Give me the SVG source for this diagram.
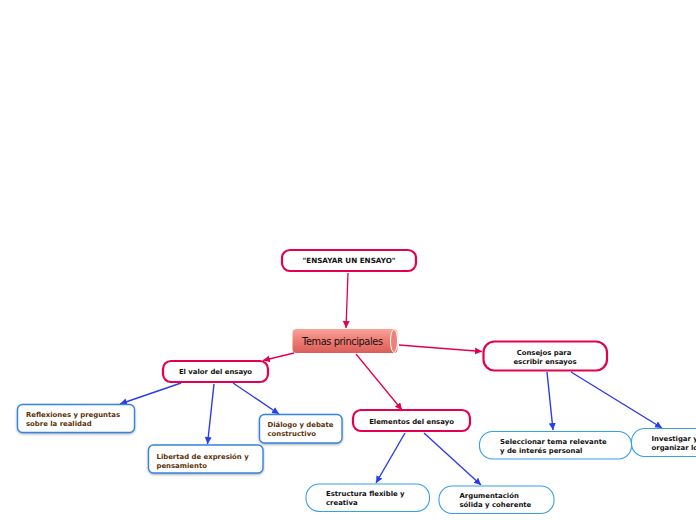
<svg xmlns="http://www.w3.org/2000/svg" width="696" height="520" viewBox="0 0 696 520">
<style>
text{font-family:"DejaVu Sans",Verdana,sans-serif;font-size:6.9px;font-weight:bold;fill:#111}
.pink{fill:#fff;stroke:#e5004f;stroke-width:2.2}
.blue{fill:#fff;stroke:#3585e0;stroke-width:1.4;filter:url(#sh)}
.sky{fill:#fff;stroke:#35a0e6;stroke-width:1.1}
.br{fill:#5c3208}
.cp{fill:none;stroke:#e5004f;stroke-width:1.3}
.cb{fill:none;stroke:#2b3bf0;stroke-width:1.4}
</style>
<defs>
<marker id="ap" markerUnits="userSpaceOnUse" markerWidth="8" markerHeight="8" refX="7" refY="3.5" orient="auto"><path d="M0 0L7 3.5L0 7Z" fill="#e5004f"/></marker>
<marker id="ab" markerUnits="userSpaceOnUse" markerWidth="8" markerHeight="8" refX="7" refY="3.5" orient="auto"><path d="M0 0L7 3.5L0 7Z" fill="#2b3bf0"/></marker>
<linearGradient id="g" x1="0" y1="0" x2="0" y2="1"><stop offset="0" stop-color="#f9a49a"/><stop offset=".5" stop-color="#ee7a72"/><stop offset="1" stop-color="#d8605a"/></linearGradient>
<filter id="sh" x="-5%" y="-10%" width="110%" height="125%"><feDropShadow dx="0" dy="1" stdDeviation=".8" flood-color="#555" flood-opacity=".5"/></filter>
</defs>
<g id="connectors">
<path class="cp" marker-end="url(#ap)" d="M348 273L346 328"/>
<path class="cp" marker-end="url(#ap)" d="M294 353L263 360.500"/>
<path class="cp" marker-end="url(#ap)" d="M356 354L402 410"/>
<path class="cp" marker-end="url(#ap)" d="M399 345L482 351.500"/>
<path class="cb" marker-end="url(#ab)" d="M181 383L120 404"/>
<path class="cb" marker-end="url(#ab)" d="M214 384L207.500 444"/>
<path class="cb" marker-end="url(#ab)" d="M233 383L279 414"/>
<path class="cb" marker-end="url(#ab)" d="M405 433L376 483"/>
<path class="cb" marker-end="url(#ab)" d="M424 433L481 485"/>
<path class="cb" marker-end="url(#ab)" d="M547 372L553 430"/>
<path class="cb" marker-end="url(#ab)" d="M571 372L662 428"/>
</g>
<g id="n-title"><rect class="pink" x="282" y="250" width="134" height="21" rx="8"/><text x="349" y="263" text-anchor="middle" style="font-size:7.2px">"ENSAYAR UN ENSAYO"</text></g>
<g id="n-main">
<rect x="292.500" y="329" width="105" height="24" rx="4" fill="url(#g)"/>
<ellipse cx="394" cy="341" rx="3.500" ry="11.500" fill="#ef8078" stroke="#fff" stroke-width="1"/>
<text x="302" y="344.500" textLength="81" style="font-size:9.800px;font-weight:normal">Temas principales</text>
</g>
<g id="n-valor"><rect class="pink" x="163" y="361" width="105" height="21" rx="8"/><text x="215.500" y="374" text-anchor="middle">El valor del ensayo</text></g>
<g id="n-reflex"><rect class="blue" x="17.500" y="404.500" width="117" height="28" rx="5"/><text class="br" x="26" y="417">Reflexiones y preguntas</text><text class="br" x="26" y="426">sobre la realidad</text></g>
<g id="n-libertad"><rect class="blue" x="148.500" y="445" width="114.500" height="28" rx="5"/><text class="br" x="156.500" y="459">Libertad de expresión y</text><text class="br" x="156.500" y="467.500">pensamiento</text></g>
<g id="n-dialogo"><rect class="blue" x="259.500" y="414.500" width="82.500" height="28.500" rx="5"/><text class="br" x="267.500" y="427">Diálogo y debate</text><text class="br" x="267.500" y="436">constructivo</text></g>
<g id="n-elementos"><rect class="pink" x="353" y="410" width="117" height="21" rx="8"/><text x="411.500" y="424" text-anchor="middle">Elementos del ensayo</text></g>
<g id="n-consejos"><rect class="pink" x="483.500" y="341.500" width="123.500" height="29" rx="11"/><text x="544" y="354.500" text-anchor="middle">Consejos para</text><text x="545" y="363.500" text-anchor="middle">escribir ensayos</text></g>
<g id="n-seleccionar"><rect class="sky" x="479.500" y="431.500" width="152" height="27.500" rx="13"/><text x="500" y="444">Seleccionar tema relevante</text><text x="500" y="452.500">y de interés personal</text></g>
<g id="n-investigar"><rect class="sky" x="631.500" y="428.500" width="100" height="28" rx="13"/><text x="651.500" y="441">Investigar y</text><text x="651.500" y="450">organizar lo</text></g>
<g id="n-estructura"><rect class="sky" x="306" y="484" width="123.500" height="27.500" rx="13"/><text x="326" y="496">Estructura flexible y</text><text x="326" y="505">creativa</text></g>
<g id="n-argumentacion"><rect class="sky" x="439" y="486" width="115" height="27.500" rx="13"/><text x="459.500" y="498">Argumentación</text><text x="459.500" y="507">sólida y coherente</text></g>
</svg>
